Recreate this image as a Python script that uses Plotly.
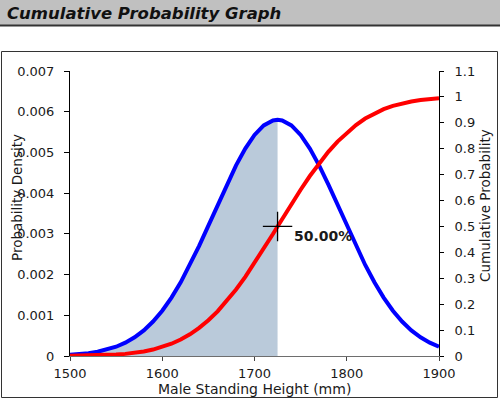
import plotly.graph_objects as go

# ---- data ----
height_mm = [1500, 1510, 1520, 1530, 1540, 1550, 1560, 1570, 1580, 1590,
             1600, 1610, 1620, 1630, 1640, 1650, 1660, 1670, 1680, 1690,
             1700, 1710, 1720, 1725, 1730, 1740, 1750, 1760, 1770, 1780,
             1790, 1800, 1810, 1820, 1830, 1840, 1850, 1860, 1870, 1880,
             1890, 1900]
prob_density = [0.0000276, 0.0000440, 0.0000685, 0.0001045, 0.0001561, 0.0002282,
                0.0003268, 0.0004585, 0.0006295, 0.0008457, 0.001113, 0.001435,
                0.001810, 0.002236, 0.002704, 0.003202, 0.003712, 0.004214,
                0.004683, 0.005096, 0.005429, 0.005664, 0.005785, 0.0058,
                0.005785, 0.005664, 0.005429, 0.005096, 0.004683, 0.004214,
                0.003712, 0.003202, 0.002704, 0.002236, 0.001810, 0.001435,
                0.001113, 0.000846, 0.000630, 0.000459, 0.000327, 0.000228]
cum_prob = [0.00054, 0.00089, 0.00144, 0.00230, 0.00358, 0.00548, 0.00824,
            0.01213, 0.01753, 0.02488, 0.03461, 0.04727, 0.06350, 0.08365,
            0.1084, 0.1379, 0.1724, 0.2121, 0.2565, 0.3054, 0.3583, 0.4137,
            0.4710, 0.5000, 0.5290, 0.5863, 0.6417, 0.6946, 0.7435, 0.7879,
            0.8276, 0.8621, 0.8916, 0.9164, 0.9365, 0.9527, 0.9654, 0.9751,
            0.9825, 0.9879, 0.9918, 0.9945]
marker_x = [1725]
marker_p = [0.5]
marker_label = "50.00%"

x_ticks = [1500, 1600, 1700, 1800, 1900]
y_ticks = [0, 0.001, 0.002, 0.003, 0.004, 0.005, 0.006, 0.007]
y_tick_text = ["0", "0.001", "0.002", "0.003", "0.004", "0.005", "0.006", "0.007"]
y2_ticks = [0, 0.1, 0.2, 0.3, 0.4, 0.5, 0.6, 0.7, 0.8, 0.9, 1.0, 1.1]
y2_tick_text = ["0", "0.1", "0.2", "0.3", "0.4", "0.5", "0.6", "0.7", "0.8",
                "0.9", "1", "1.1"]

title_text = "Cumulative Probability Graph"
x_title = "Male Standing Height (mm)"
y_title = "Probability Density"
y2_title = "Cumulative Probability"

# ---- layout geometry (pixels) ----
W, H = 500, 399
ML, MR, MT, MB = 70, 61, 71, 43
PW, PH = W - ML - MR, H - MT - MB


def px_x(p):
    return (p - ML) / PW


def px_y(p):
    return (H - MB - p) / PH


FONT = "DejaVu Sans, Verdana, sans-serif"
TXT = "#1a1a1a"

shade_x = [x for x in height_mm if x <= marker_x[0]]
shade_y = [d for x, d in zip(height_mm, prob_density) if x <= marker_x[0]]

fig = go.Figure()
fig.add_trace(go.Scatter(x=shade_x, y=shade_y, mode="lines", fill="tozeroy",
                         fillcolor="#BACADA", line=dict(width=0, color="#BACADA"),
                         hoverinfo="skip", showlegend=False))
fig.add_trace(go.Scatter(x=height_mm, y=prob_density, mode="lines",
                         line=dict(color="#0000FF", width=4), showlegend=False))
fig.add_trace(go.Scatter(x=height_mm, y=cum_prob, mode="lines", yaxis="y2",
                         line=dict(color="#FF0000", width=4), showlegend=False))
fig.add_trace(go.Scatter(x=marker_x, y=marker_p, mode="markers", yaxis="y2",
                         marker=dict(symbol="cross-thin", size=21,
                                     line=dict(width=1.3, color="black")),
                         showlegend=False))

tickfont = dict(family=FONT, size=13, color=TXT)

fig.update_layout(
    width=W, height=H, autosize=False,
    margin=dict(l=ML, r=MR, t=MT, b=MB, pad=0),
    paper_bgcolor="white", plot_bgcolor="white",
    xaxis=dict(range=[1500, 1900], tickvals=x_ticks, automargin=False,
               showgrid=False, zeroline=False, showline=True, linecolor="#6e6e6e",
               linewidth=1, ticks="outside", ticklen=4, tickcolor="#444",
               tickfont=tickfont, ticklabelstandoff=1),
    yaxis=dict(range=[0, 0.007], tickvals=y_ticks, ticktext=y_tick_text,
               automargin=False,
               showgrid=False, zeroline=False, showline=True, linecolor="black",
               linewidth=1, ticks="outside", ticklen=5, tickcolor="black",
               tickfont=tickfont, ticklabelstandoff=7),
    yaxis2=dict(range=[0, 1.1], tickvals=y2_ticks, ticktext=y2_tick_text,
                overlaying="y", side="right", automargin=False,
                anchor="x", showgrid=False, zeroline=False, showline=True,
                linecolor="black", linewidth=1, ticks="outside", ticklen=4,
                tickcolor="black", tickfont=tickfont, ticklabelstandoff=8),
    yaxis3=dict(range=[0, 1.1], tickvals=y2_ticks, overlaying="y", side="right",
                anchor="x", showgrid=False, zeroline=False, showline=False,
                automargin=False, ticks="inside", ticklen=4, tickcolor="black",
                showticklabels=False),
)

shapes = [
    dict(type="rect", xref="paper", yref="paper", x0=px_x(0), x1=px_x(W),
         y0=px_y(25), y1=px_y(0), fillcolor="#C0C0C0", line=dict(width=0),
         layer="below"),
    dict(type="line", xref="paper", yref="paper", x0=px_x(0), x1=px_x(W),
         y0=px_y(25.5), y1=px_y(25.5), line=dict(color="#333333", width=2)),
    dict(type="rect", xref="paper", yref="paper", x0=px_x(1.5), x1=px_x(497.5),
         y0=px_y(397.5), y1=px_y(51.5), line=dict(color="#333333", width=1),
         fillcolor="rgba(0,0,0,0)"),
]
fig.update_layout(shapes=shapes)

annotations = [
    dict(text="<b><i>" + title_text + "</i></b>", xref="paper", yref="paper",
         x=px_x(5), y=px_y(13), xanchor="left", yanchor="middle", showarrow=False,
         font=dict(family=FONT, size=16.5, color="#111111")),
    dict(text=x_title, xref="paper", yref="paper", x=0.5, y=px_y(389),
         xanchor="center", yanchor="middle", showarrow=False,
         font=dict(family=FONT, size=14, color=TXT)),
    dict(text=y_title, xref="paper", yref="paper", x=px_x(17), y=px_y(198),
         xanchor="center", yanchor="middle", textangle=-90, showarrow=False,
         font=dict(family=FONT, size=13.5, color=TXT)),
    dict(text=y2_title, xref="paper", yref="paper", x=px_x(485), y=px_y(206),
         xanchor="center", yanchor="middle", textangle=-90, showarrow=False,
         font=dict(family=FONT, size=13.5, color=TXT)),
    dict(text="<b>" + marker_label + "</b>", xref="x", yref="y2",
         x=marker_x[0], y=marker_p[0], xanchor="left", yanchor="middle",
         xshift=14, yshift=-10, showarrow=False,
         font=dict(family=FONT, size=14, color=TXT)),
]
fig.update_layout(annotations=annotations)

fig.write_html("out.html",
               config={"displayModeBar": False, "staticPlot": True},
               post_script="document.body.style.margin='0';"
                           "document.body.style.overflow='hidden';")
